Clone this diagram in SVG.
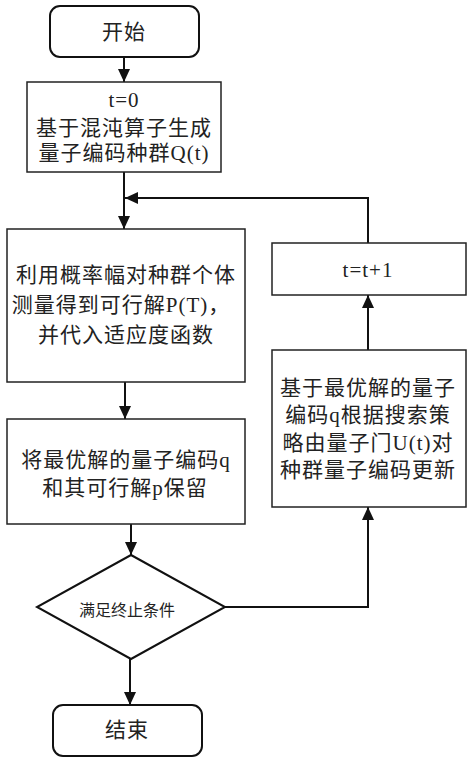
<svg xmlns="http://www.w3.org/2000/svg" width="474" height="767" viewBox="0 0 474 767">
<style>
.box{fill:#fff;stroke:#222;stroke-width:1.5}
.term{fill:#fff;stroke:#111;stroke-width:2}
.t{font-family:"Liberation Serif","Noto Sans CJK SC",serif;font-size:21px;letter-spacing:1px;fill:#222;text-anchor:middle;dominant-baseline:central}
.s{font-size:16px;letter-spacing:0}
.c{fill:none;stroke:#111;stroke-width:2}
</style>
<defs>
<marker id="ah" markerUnits="userSpaceOnUse" markerWidth="14" markerHeight="12" refX="13" refY="6" orient="auto">
<path d="M0,0 L13,6 L0,12 z" fill="#111"/>
</marker>
</defs>
<rect width="474" height="767" fill="#fff"/>
<g id="connectors">
<line class="c" x1="124" y1="57" x2="124" y2="82" marker-end="url(#ah)"/>
<line class="c" x1="124" y1="172" x2="124" y2="229" marker-end="url(#ah)"/>
<path class="c" d="M368,243 V198 H125" marker-end="url(#ah)"/>
<line class="c" x1="125" y1="382" x2="125" y2="419" marker-end="url(#ah)"/>
<line class="c" x1="131" y1="524" x2="131" y2="555" marker-end="url(#ah)"/>
<path class="c" d="M225,607 H368 V507" marker-end="url(#ah)"/>
<line class="c" x1="368" y1="350" x2="368" y2="295" marker-end="url(#ah)"/>
<line class="c" x1="130" y1="659" x2="130" y2="705" marker-end="url(#ah)"/>
</g>
<g id="start">
<rect class="term" x="50" y="6" width="149" height="51" rx="10"/>
<text class="t" x="124" y="32">开始</text>
</g>
<g id="init">
<rect class="box" x="27" y="82" width="194" height="90"/>
<text class="t" x="124" y="100">t=0</text>
<text class="t" x="124" y="128">基于混沌算子生成</text>
<text class="t" x="124" y="153">量子编码种群Q(t)</text>
</g>
<g id="measure">
<rect class="box" x="7" y="229" width="238" height="153"/>
<text class="t" x="126" y="275">利用概率幅对种群个体</text>
<text class="t" x="121" y="305">测量得到可行解P(T)，</text>
<text class="t" x="126" y="335">并代入适应度函数</text>
</g>
<g id="keep">
<rect class="box" x="7" y="419" width="238" height="105"/>
<text class="t" x="126" y="460">将最优解的量子编码q</text>
<text class="t" x="125" y="488">和其可行解p保留</text>
</g>
<g id="decision">
<polygon class="term" points="131,555 225,607 131,659 37,607"/>
<text class="t s" x="127" y="610">满足终止条件</text>
</g>
<g id="increment">
<rect class="box" x="272" y="243" width="194" height="52"/>
<text class="t" x="368" y="270">t=t+1</text>
</g>
<g id="update">
<rect class="box" x="272" y="350" width="194" height="157"/>
<text class="t" x="368" y="388">基于最优解的量子</text>
<text class="t" x="368" y="415">编码q根据搜索策</text>
<text class="t" x="368" y="443">略由量子门U(t)对</text>
<text class="t" x="368" y="470">种群量子编码更新</text>
</g>
<g id="end">
<rect class="term" x="53" y="705" width="149" height="51" rx="10"/>
<text class="t" x="127" y="730">结束</text>
</g>
</svg>
